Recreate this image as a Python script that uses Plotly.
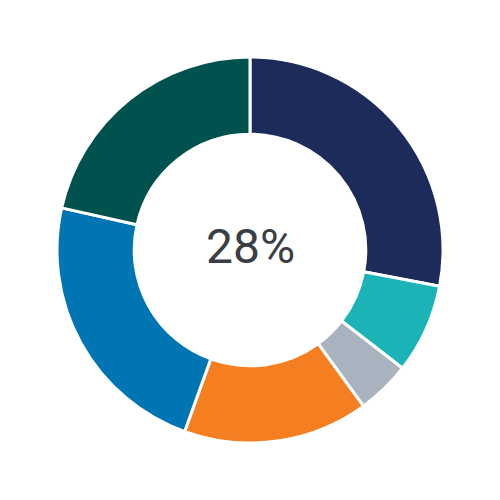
import plotly.graph_objects as go

labels = ["Navy", "Teal", "Gray", "Orange", "Blue", "Green"]
values = [28, 7.5, 4.5, 15.5, 23, 21.5]
colors = ["#1c2b5a", "#1ab4b6", "#a9b3c0", "#f47e20", "#0075b4", "#00524f"]
center_text = "28%"

fig = go.Figure()
fig.add_trace(go.Pie(
    labels=labels,
    values=values,
    hole=0.6,
    sort=False,
    direction="clockwise",
    rotation=0,
    marker=dict(colors=colors, line=dict(color="white", width=3)),
    textinfo="none",
    hoverinfo="label+percent",
))

fig.add_annotation(
    text=center_text, x=0.5, y=0.5, xref="paper", yref="paper", yshift=4,
    showarrow=False, font=dict(family="Roboto", size=48, color="#3a3e45"),
)

# page body adds an 8px offset, so margins are shifted to keep the ring centred
fig.update_layout(
    width=500, height=500,
    margin=dict(l=49, r=65, t=49, b=65),
    showlegend=False,
    paper_bgcolor="white",
    plot_bgcolor="white",
)

fig.write_html("out.html")
